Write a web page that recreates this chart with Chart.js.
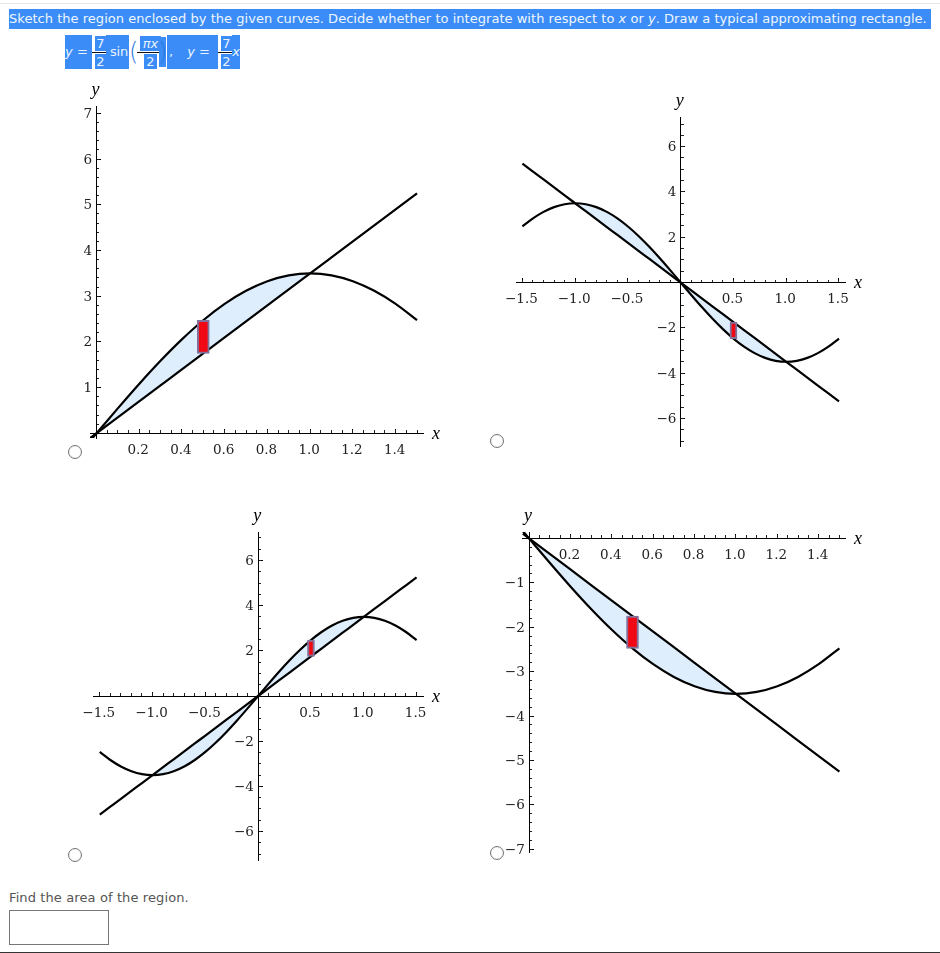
<!DOCTYPE html>
<html><head><meta charset="utf-8">
<script src="https://cdn.jsdelivr.net/npm/chart.js@4"></script>
<style>
html,body{margin:0;padding:0;background:#fff}
#page{position:relative;width:940px;height:953px;overflow:hidden;font-family:"DejaVu Sans",sans-serif;background:#fff}
#page canvas{position:absolute}
.b{position:absolute;background:#3b8cf6;color:#e9f3ff;font-size:13px;line-height:15px;white-space:pre;text-align:center}
.ln{position:absolute;height:1px;background:#111}
.par{position:absolute;color:#2a78e0;font-family:"DejaVu Sans";font-weight:200}
.radio{position:absolute;width:12px;height:12px;border:1px solid #777;border-radius:50%;background:#fff;box-shadow:inset 0 0 1px #bbb}
i{font-style:italic}
</style></head><body><div id="page">
<div style="position:absolute;left:0;top:3px;width:940px;height:1px;background:#e6e6e6"></div>
<div id="head" style="position:absolute;left:9px;top:9px;width:922px;height:20px;background:#3b8cf6;color:#eef6ff;font-size:13px;letter-spacing:0.03px;line-height:20px;white-space:pre">Sketch the region enclosed by the given curves. Decide whether to integrate with respect to <i>x</i> or <i>y</i>. Draw a typical approximating rectangle.</div>
<div class="b" style="left:65px;top:35px;width:27px;height:34px;line-height:34px"><i>y</i> = </div>
<div class="ln" style="left:92px;top:52px;width:14px"></div>
<div class="b" style="left:95px;top:36px;width:11px;height:15px">7</div>
<div class="b" style="left:95px;top:54px;width:11px;height:15px">2</div>
<div class="b" style="left:106px;top:35px;width:19px;height:34px;line-height:34px;padding-left:4px;text-align:left;letter-spacing:-0.2px">sin</div>
<div class="par" style="left:129px;top:38px;font-size:24px;line-height:28px">(</div>
<div class="b" style="left:140px;top:36px;width:21px;height:15px"><i>πx</i></div>
<div class="ln" style="left:137px;top:52px;width:22px"></div>
<div class="b" style="left:144px;top:54px;width:13px;height:15px">2</div>
<div class="b" style="left:159px;top:37px;width:7px;height:30px"></div>
<div class="par" style="left:158px;top:38px;font-size:24px;line-height:28px">)</div>
<div class="b" style="left:167px;top:35px;width:47px;height:34px;line-height:34px;padding-right:4px;text-align:right"><i>y</i> = </div>
<div class="b" style="left:167px;top:35px;width:8px;height:34px;line-height:34px;background:none">,</div>
<div class="ln" style="left:218px;top:52px;width:14px"></div>
<div class="b" style="left:221px;top:36px;width:11px;height:15px">7</div>
<div class="b" style="left:221px;top:54px;width:11px;height:15px">2</div>
<div class="b" style="left:232px;top:35px;width:8px;height:34px;line-height:34px"><i>x</i></div>
<div class="radio" style="left:68px;top:445px"></div>
<div class="radio" style="left:490px;top:434px"></div>
<div class="radio" style="left:68px;top:848px"></div>
<div class="radio" style="left:490px;top:846px"></div>
<div style="position:absolute;left:9px;top:890px;color:#555;font-size:13px;letter-spacing:0.11px;line-height:16px">Find the area of the region.</div>
<div style="position:absolute;left:9px;top:910px;width:98px;height:33px;border:1px solid #777;background:#fff"></div>
<div style="position:absolute;left:0;top:952px;width:940px;height:1px;background:#333"></div>
</div>
<script>
// Values
const xValues    = [-1.5,-1.4,-1.3,-1.2,-1.1,-1.0,-0.9,-0.8,-0.7,-0.6,-0.5,-0.4,-0.3,-0.2,-0.1,-0.03,0,0.1,0.2,0.3,0.4,0.5,0.6,0.7,0.8,0.9,1.0,1.1,1.2,1.3,1.4,1.5];
const sineValues = [-2.475,-2.832,-3.119,-3.329,-3.457,-3.5,-3.457,-3.329,-3.119,-2.832,-2.475,-2.057,-1.589,-1.082,-0.548,-0.165,0,0.548,1.082,1.589,2.057,2.475,2.832,3.119,3.329,3.457,3.5,3.457,3.329,3.119,2.832,2.475];
const lineValues = [-5.25,-4.9,-4.55,-4.2,-3.85,-3.5,-3.15,-2.8,-2.45,-2.1,-1.75,-1.4,-1.05,-0.7,-0.35,-0.105,0,0.35,0.7,1.05,1.4,1.75,2.1,2.45,2.8,3.15,3.5,3.85,4.2,4.55,4.9,5.25];
const rectX = 0.5, rectLow = 1.75, rectHigh = 2.475;

const ticksA_X = [0.2,0.4,0.6,0.8,1.0,1.2,1.4];
const labelsA_X = ['0.2','0.4','0.6','0.8','1.0','1.2','1.4'];
const ticksA_Y = [1,2,3,4,5,6,7];
const labelsA_Y = ['1','2','3','4','5','6','7'];
const ticksB_X = [-1.5,-1.0,-0.5,0.5,1.0,1.5];
const labelsB_X = ['−1.5','−1.0','−0.5','0.5','1.0','1.5'];
const ticksB_Y = [-6,-4,-2,2,4,6];
const labelsB_Y = ['−6','−4','−2','2','4','6'];
const ticksD_Y = [-7,-6,-5,-4,-3,-2,-1];
const labelsD_Y = ['−7','−6','−5','−4','−3','−2','−1'];

const black = '#000', regionFill = '#dfeefd', tickFont = {family:'"DejaVu Serif"', size:13.5};

const panels = [
 {sign:1,  full:false, box:[90,106,423,438],  x:[-0.03,1.528],  y:[-0.1,7.16],    tx:ticksA_X, lx:labelsA_X, ty:ticksA_Y, ly:labelsA_Y, mx:0.05, my:0.2, barW:12},
 {sign:-1, full:true,  box:[516,117,845,446], x:[-1.561,1.557], y:[-7.22,7.31],   tx:ticksB_X, lx:labelsB_X, ty:ticksB_Y, ly:labelsB_Y, mx:0.1,  my:0.5, barW:7},
 {sign:1,  full:true,  box:[93,532,423,860],  x:[-1.564,1.561], y:[-7.257,7.257], tx:ticksB_X, lx:labelsB_X, ty:ticksB_Y, ly:labelsB_Y, mx:0.1,  my:0.5, barW:7},
 {sign:-1, full:false, box:[522,532,845,852], x:[-0.034,1.527], y:[-7.06,0.144],  tx:ticksA_X, lx:labelsA_X, ty:ticksD_Y, ly:labelsD_Y, mx:0.05, my:0.2, barW:12}
];

const axisNames = {
  id:'axisNames',
  afterDraw(chart){
    const {ctx, scales:{x,y}} = chart;
    ctx.save();
    ctx.fillStyle = '#000';
    ctx.font = 'italic 18px "Liberation Serif"';
    ctx.textAlign = 'center'; ctx.textBaseline = 'middle';
    ctx.fillText('x', x.right + 13, y.getPixelForValue(0) + 1);
    ctx.fillText('y', x.getPixelForValue(0) - 1, y.top - 16);
    ctx.restore();
  }
};

function pts(p, from, to){
  const out = {sine:[], line:[]};
  xValues.forEach((v,i)=>{
    if (v < from || v > to) return;
    out.sine.push({x:v, y:p.sign*sineValues[i]});
    out.line.push({x:v, y:p.sign*lineValues[i]});
  });
  return out;
}

const M = 40;
panels.forEach(p=>{
  const [l,t,r,b] = p.box;
  const c = document.createElement('canvas');
  c.width = r-l+2*M; c.height = b-t+2*M;
  c.style.left = (l-M)+'px'; c.style.top = (t-M)+'px';
  c.style.width = c.width+'px'; c.style.height = c.height+'px';
  document.getElementById('page').appendChild(c);

  const main = p.full ? pts(p,-1.5,1.5) : pts(p,-0.03,1.5);
  if (p.full) { main.sine = main.sine.filter(q=>q.x!==-0.03); main.line = main.line.filter(q=>q.x!==-0.03); }
  const reg = pts(p, p.full?-1:0, 1);
  reg.sine = reg.sine.filter(q=>q.x!==-0.03); reg.line = reg.line.filter(q=>q.x!==-0.03);

  const lineStyle = {type:'line', borderColor:black, borderWidth:2.2, pointRadius:0, fill:false, cubicInterpolationMode:'monotone'};
  const lo = p.sign>0 ? [rectLow,rectHigh] : [-rectHigh,-rectLow];

  const majorX = {type:'linear', min:p.x[0], max:p.x[1], offset:false, position:{y:0},
    afterBuildTicks(a){a.ticks = p.tx.map(v=>({value:v}));},
    grid:{drawOnChartArea:false, offset:false, tickLength:-5, tickColor:black, tickWidth:1},
    border:{display:true,color:black,width:1},
    ticks:{autoSkip:false,maxRotation:0,minRotation:0,padding:14,labelOffset:-1,color:'#222',font:tickFont,callback:(v,i)=>p.lx[i]}};
  const majorY = {type:'linear', min:p.y[0], max:p.y[1], offset:false, position:{x:0},
    afterBuildTicks(a){a.ticks = p.ty.map(v=>({value:v}));},
    grid:{drawOnChartArea:false, offset:false, tickLength:-5, tickColor:black, tickWidth:1},
    border:{display:true,color:black,width:1},
    ticks:{autoSkip:false,labelOffset:1,color:'#222',font:tickFont,callback:(v,i)=>p.ly[i]+'\u00a0'}};
  const minor = (range,pos,step)=>({type:'linear', min:range[0], max:range[1], offset:false, position:pos,
    grid:{drawOnChartArea:false, offset:false, tickLength:-3, tickColor:'#222', tickWidth:1},
    border:{display:false},
    ticks:{autoSkip:false,includeBounds:false,stepSize:step,font:{size:1},padding:0,maxRotation:0,minRotation:0,callback:()=>''}});

  new Chart(c,{
    type:'line',
    data:{datasets:[
      {type:'bar', data:[{x:rectX,y:lo}], barThickness:p.barW, backgroundColor:'#f00814', borderColor:'#80709a', borderWidth:2, borderSkipped:false, order:0},
      {...lineStyle, data:main.sine, order:1},
      {...lineStyle, data:main.line, order:1},
      {type:'line', data:reg.sine, borderWidth:0, borderColor:'transparent', pointRadius:0, cubicInterpolationMode:'monotone', fill:{target:'+1'}, backgroundColor:regionFill, order:2},
      {type:'line', data:reg.line, borderWidth:0, borderColor:'transparent', pointRadius:0, cubicInterpolationMode:'monotone', fill:false, order:2}
    ]},
    options:{
      responsive:false, animation:false, devicePixelRatio:1,
      layout:{padding:M},
      plugins:{legend:{display:false},title:{display:false},tooltip:{enabled:false}},
      scales:{x:majorX,y:majorY,xMinor:minor(p.x,{y:0},p.mx),yMinor:minor(p.y,{x:0},p.my)}
    },
    plugins:[axisNames]
  });
});
</script>
</body></html>
